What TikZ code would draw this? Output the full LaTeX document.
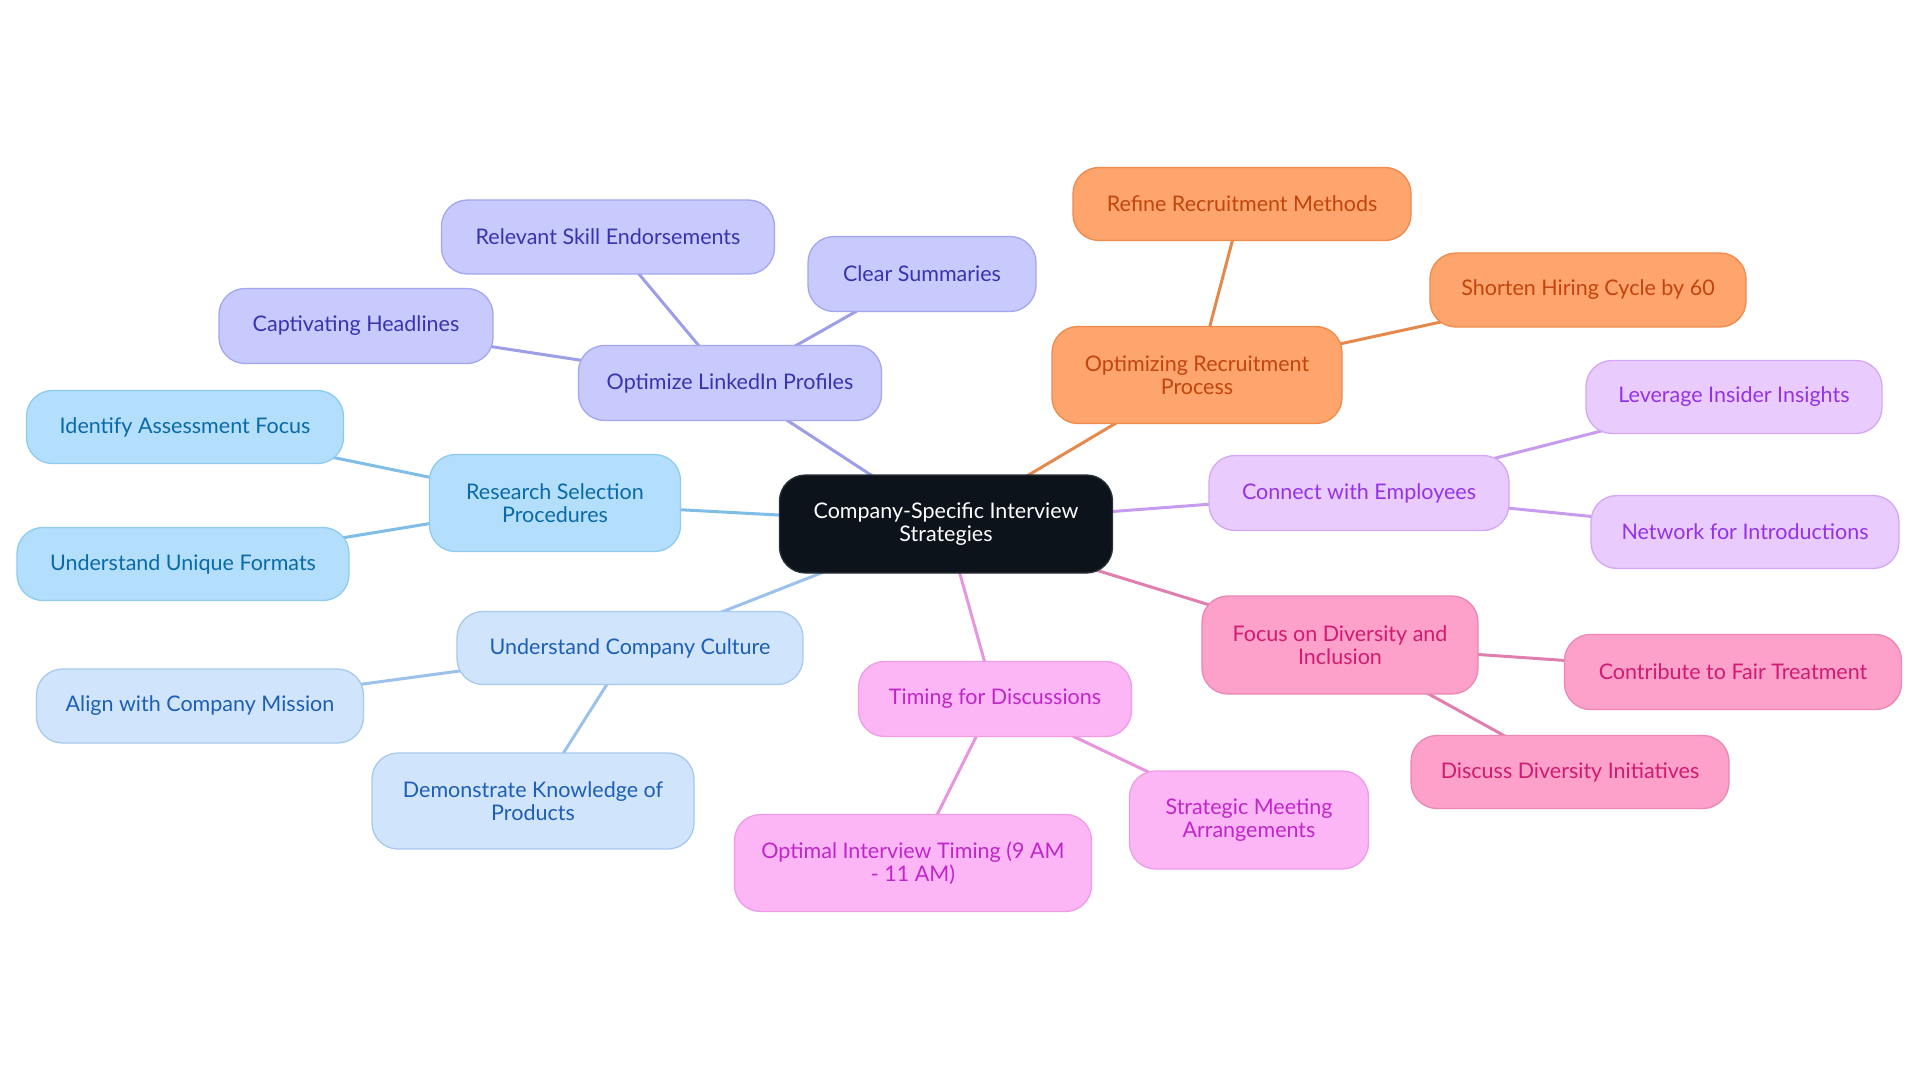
\documentclass[tikz,border=0pt]{standalone}
\usepackage{fontspec}
\setmainfont{Lato}
\usetikzlibrary{backgrounds}
\begin{document}
\begin{tikzpicture}[x=1pt,y=-1pt,
  base/.style={rounded corners=26pt, draw, line width=1.3pt, align=center, inner sep=0pt,
    font=\fontsize{21.5}{22.5}\selectfont},
  lav/.style={base, fill=lavF, draw=lavD, text=lavT},
  sky/.style={base, fill=skyF, draw=skyD, text=skyT},
  pbl/.style={base, fill=pblF, draw=pblD, text=pblT},
  pnk/.style={base, fill=pnkF, draw=pnkD, text=pnkT},
  hpk/.style={base, fill=hpkF, draw=hpkD, text=hpkT},
  pur/.style={base, fill=purF, draw=purD, text=purT},
  org/.style={base, fill=orgF, draw=orgD, text=orgT},
  root/.style={base, fill=rootF, draw=rootD, text=white},
  sz/.style n args={2}{minimum width=#1pt, minimum height=#2pt},
  lk/.style={line width=3pt, draw=#1}
]
\definecolor{lavF}{HTML}{C8C9FD}\definecolor{lavD}{HTML}{A4A7EF}\definecolor{lavT}{HTML}{3A33AE}\definecolor{lavL}{HTML}{9C9EE8}
\definecolor{skyF}{HTML}{B3DEFC}\definecolor{skyD}{HTML}{8FCBF1}\definecolor{skyT}{HTML}{0A6AA6}\definecolor{skyL}{HTML}{7EBDE6}
\definecolor{pblF}{HTML}{D0E4FC}\definecolor{pblD}{HTML}{A8C9EF}\definecolor{pblT}{HTML}{1C5FB4}\definecolor{pblL}{HTML}{9CC2EB}
\definecolor{pnkF}{HTML}{FDB6F5}\definecolor{pnkD}{HTML}{EF9BE6}\definecolor{pnkT}{HTML}{C026C8}\definecolor{pnkL}{HTML}{E895E0}
\definecolor{hpkF}{HTML}{FDA1CA}\definecolor{hpkD}{HTML}{EC86B6}\definecolor{hpkT}{HTML}{D11A72}\definecolor{hpkL}{HTML}{E07EB0}
\definecolor{purF}{HTML}{EACBFD}\definecolor{purD}{HTML}{D2A8F4}\definecolor{purT}{HTML}{9333E6}\definecolor{purL}{HTML}{C79CEE}
\definecolor{orgF}{HTML}{FDA56C}\definecolor{orgD}{HTML}{EE8A4C}\definecolor{orgT}{HTML}{C2450F}\definecolor{orgL}{HTML}{E5884C}
\definecolor{rootF}{HTML}{0D131B}\definecolor{rootD}{HTML}{2A3038}
\useasboundingbox (0,0) rectangle (1920,1083);

% nodes
\node[root, sz={333}{98}] (c) at (946,524) {Company-Specific Interview\\Strategies};

\node[lav, sz={303}{75}] (li) at (730,383) {Optimize LinkedIn Profiles};
\node[lav, sz={333}{74}] (sk) at (608,237) {Relevant Skill Endorsements};
\node[lav, sz={228}{75}] (cs) at (922,274) {Clear Summaries};
\node[lav, sz={274}{75}] (ch) at (356,326) {Captivating Headlines};

\node[sky, sz={251}{97}] (rs) at (555,503) {Research Selection\\Procedures};
\node[sky, sz={317}{73}] (ia) at (185,427) {Identify Assessment Focus};
\node[sky, sz={332}{73}] (uf) at (183,564) {Understand Unique Formats};

\node[pbl, sz={346}{73}] (uc) at (630,648) {Understand Company Culture};
\node[pbl, sz={327}{74}] (am) at (200,706) {Align with Company Mission};
\node[pbl, sz={322}{96}] (dk) at (533,801) {Demonstrate Knowledge of\\Products};

\node[pnk, sz={273}{75}] (td) at (995,699) {Timing for Discussions};
\node[pnk, sz={357}{97}] (oi) at (913,863) {Optimal Interview Timing (9 AM\\- 11 AM)};
\node[pnk, sz={239}{98}] (sm) at (1249,820) {Strategic Meeting\\Arrangements};

\node[hpk, sz={276}{98}] (fd) at (1340,645) {Focus on Diversity and\\Inclusion};
\node[hpk, sz={337}{75}] (cf) at (1733,672) {Contribute to Fair Treatment};
\node[hpk, sz={318}{73}] (dd) at (1570,772) {Discuss Diversity Initiatives};

\node[pur, sz={300}{75}] (ce) at (1359,493) {Connect with Employees};
\node[pur, sz={296}{73}] (ls) at (1734,397) {Leverage Insider Insights};
\node[pur, sz={308}{73}] (nw) at (1745,532) {Network for Introductions};

\node[org, sz={290}{97}] (or) at (1197,375) {Optimizing Recruitment\\Process};
\node[org, sz={338}{73}] (rr) at (1242,204) {Refine Recruitment Methods};
\node[org, sz={316}{74}] (sh) at (1588,290) {Shorten Hiring Cycle by 60};

% connectors
\begin{scope}[on background layer]
\fill[white] (0,0) rectangle (1920,1083);
\draw[lk=lavL] (c.center) -- (li.center);
\draw[lk=lavL] (li.center) -- (sk.center);
\draw[lk=lavL] (li.center) -- (cs.center);
\draw[lk=lavL] (li.center) -- (ch.center);
\draw[lk=skyL] (c.center) -- (rs.center);
\draw[lk=skyL] (rs.center) -- (ia.center);
\draw[lk=skyL] (rs.center) -- (uf.center);
\draw[lk=pblL] (c.center) -- (uc.center);
\draw[lk=pblL] (uc.center) -- (am.center);
\draw[lk=pblL] (uc.center) -- (dk.center);
\draw[lk=pnkL] (c.center) -- (td.center);
\draw[lk=pnkL] (td.center) -- (oi.center);
\draw[lk=pnkL] (td.center) -- (sm.center);
\draw[lk=hpkL] (c.center) -- (fd.center);
\draw[lk=hpkL] (fd.center) -- (cf.center);
\draw[lk=hpkL] (fd.center) -- (dd.center);
\draw[lk=purL] (c.center) -- (ce.center);
\draw[lk=purL] (ce.center) -- (ls.center);
\draw[lk=purL] (ce.center) -- (nw.center);
\draw[lk=orgL] (c.center) -- (or.center);
\draw[lk=orgL] (or.center) -- (rr.center);
\draw[lk=orgL] (or.center) -- (sh.center);
\end{scope}
\end{tikzpicture}
\end{document}
